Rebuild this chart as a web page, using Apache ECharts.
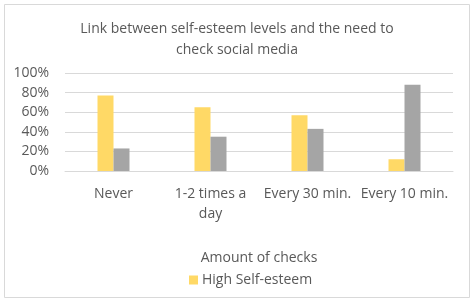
<!DOCTYPE html>
<html>
<head>
<meta charset="utf-8">
<script src="https://cdn.jsdelivr.net/npm/echarts@6/dist/echarts.min.js"></script>
<style>
  html, body { margin: 0; padding: 0; background: #fff; }
  #chart { width: 474px; height: 305px; }
</style>
</head>
<body>
<div id="chart"></div>
<script>
// categories and values (share of respondents, %)
const categories = ["Never", "1-2 times a\nday", "Every 30 min.", "Every 10 min."];
const highSelfEsteem = [77, 65, 57, 12];
const lowSelfEsteem = [23, 35, 43, 88];

const textColor = "#595959";
const font = "'Open Sans', 'Liberation Sans', sans-serif";

const chart = echarts.init(document.getElementById("chart"));

chart.setOption({
  animation: false,
  textStyle: { fontFamily: font },
  graphic: [
    {
      type: "rect",
      shape: { x: 4.5, y: 4.5, width: 465, height: 293 },
      style: { fill: "none", stroke: "#d9d9d9", lineWidth: 1 },
    },
  ],
  title: {
    text: "Link between self-esteem levels and the need to\ncheck social media",
    left: "center",
    top: 14,
    textStyle: {
      color: textColor,
      fontSize: 14,
      fontWeight: "normal",
      lineHeight: 21,
      fontFamily: font,
    },
  },
  grid: { left: 65, right: 21, top: 73, bottom: 134 },
  xAxis: {
    type: "category",
    data: categories,
    name: "Amount of checks",
    nameLocation: "middle",
    nameGap: 80,
    nameTextStyle: { color: textColor, fontSize: 14 },
    axisLine: { show: true, lineStyle: { color: "#d9d9d9" } },
    axisTick: { show: false },
    axisLabel: { color: textColor, fontSize: 14, margin: 13, lineHeight: 20, interval: 0 },
  },
  yAxis: {
    type: "value",
    min: 0,
    max: 100,
    interval: 20,
    axisLine: { show: false },
    axisTick: { show: false },
    axisLabel: { color: textColor, fontSize: 14, margin: 16, formatter: "{value}%" },
    splitLine: { lineStyle: { color: "#d9d9d9" } },
  },
  legend: {
    data: ["High Self-esteem"],
    left: 184,
    top: 268,
    itemWidth: 9,
    itemHeight: 9,
    itemGap: 4,
    icon: "rect",
    textStyle: { color: textColor, fontSize: 14, padding: [0, 0, 0, -1] },
  },
  series: [
    {
      name: "High Self-esteem",
      type: "bar",
      data: highSelfEsteem,
      barWidth: 16,
      barGap: "0%",
      itemStyle: { color: "#FFD966" },
    },
    {
      name: "Low Self-esteem",
      type: "bar",
      data: lowSelfEsteem,
      barWidth: 16,
      itemStyle: { color: "#A5A5A5" },
    },
  ],
});
</script>
</body>
</html>
